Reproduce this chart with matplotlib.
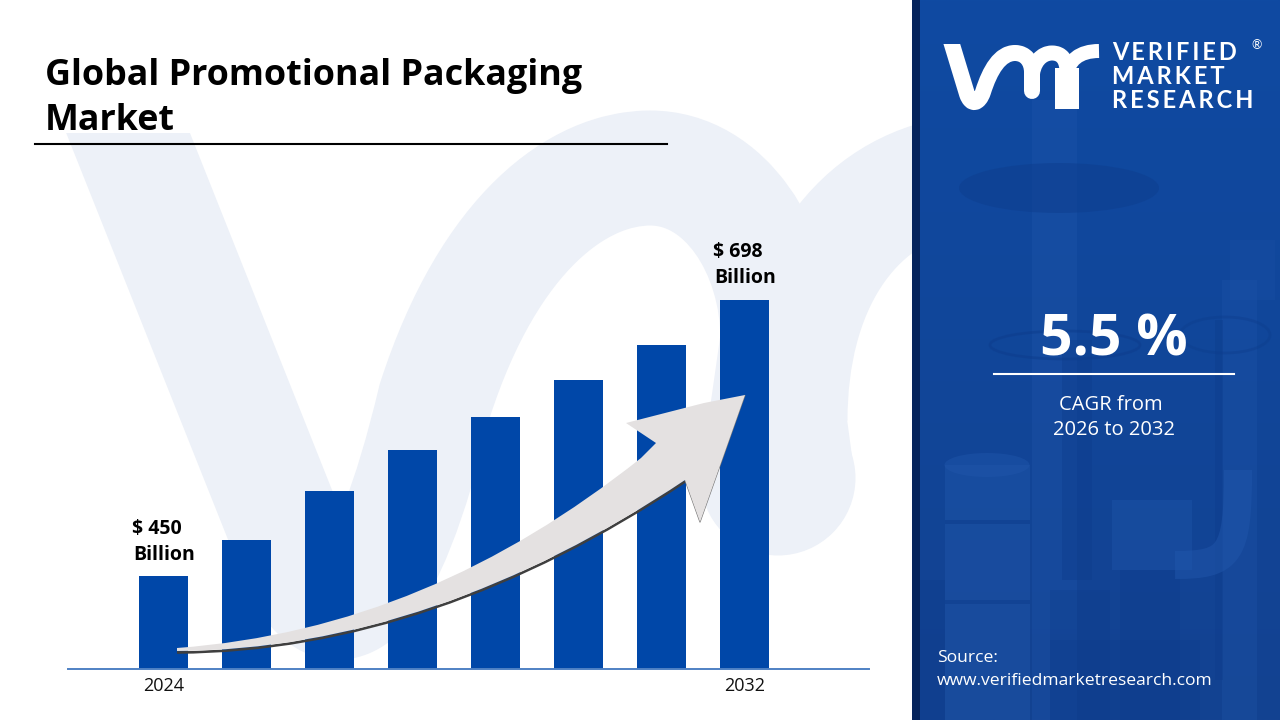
import numpy as np
import matplotlib
matplotlib.use('Agg')
import matplotlib.pyplot as plt
from matplotlib.path import Path
from matplotlib.patches import PathPatch, Rectangle, Polygon, Ellipse

bar_labels = ['2024', '', '', '', '', '', '', '2032']
# bars are drawn as tall as they look in the picture, not to the dollar scale
bar_heights = [93, 129, 178, 219, 252, 289, 324, 369]
start_label = '$ 450\nBillion'
end_label = '$ 698\nBillion'
title_lines = ['Global Promotional Packaging', 'Market']
cagr_value = '5.5 %'

BLUE = '#0047a8'
PALE = '#edf1f8'
SANS = ['Open Sans', 'DejaVu Sans']
LATO = ['Lato', 'DejaVu Sans']

plt.rcParams['font.family'] = SANS

fig = plt.figure(figsize=(12.8, 7.2), dpi=100, facecolor='white')

# whole figure axes in pixel coordinates for all the decoration
bg = fig.add_axes([0, 0, 1, 1], zorder=0)
bg.set_xlim(0, 1280)
bg.set_ylim(720, 0)
bg.axis('off')


def stroke(ax, verts, codes, width, color, cap='butt', clip=None, z=2, alpha=1):
    patch = PathPatch(Path(verts, codes), fill=False, edgecolor=color, lw=width * 0.72,
                      capstyle=cap, joinstyle='round', zorder=z, alpha=alpha)
    ax.add_patch(patch)
    if clip is not None:
        patch.set_clip_path(clip)
    return patch


M, L, C = Path.MOVETO, Path.LINETO, Path.CURVE4

# big pale logo behind the chart
clip_box = Polygon([(0, 133), (300, 133), (300, 110), (912, 110), (912, 720), (0, 720)],
                   closed=True, transform=bg.transData)
stroke(bg, [(103, 70), (300, 565), (335, 640), (385, 610), (435, 400), (490, 230), (580, 168), (650, 168),
            (725, 168), (778, 250), (778, 340)],
       [M, L, C, C, C, C, C, C, C, C, C], 115, PALE, clip=clip_box, z=1)
bg.add_patch(Polygon([(720, 338), (836, 338), (855, 478), (700, 478)], closed=True, fc=PALE, ec='none', zorder=1))
bg.add_patch(Ellipse((778, 478), 155, 155, color=PALE, lw=0, zorder=1))
stroke(bg, [(790, 420), (790, 290), (850, 195), (950, 175)], [M, C, C, C], 115, PALE, clip=clip_box, z=1)

# side panel, dark strip on the left and darker to the bottom
grad = np.linspace(0, 1, 256).reshape(-1, 1, 1)
top = np.array([15, 74, 162]) / 255
bottom = np.array([19, 66, 145]) / 255
bg.imshow(top + (bottom - top) * grad, extent=(912, 1280, 720, 0), aspect='auto', zorder=3)
bg.set_xlim(0, 1280)
bg.set_ylim(720, 0)
bg.add_patch(Rectangle((912, 0), 8, 720, color='#06245c', lw=0, zorder=4.5))

# plant silhouette in the panel
dark = '#0d3c8c'
light = '#2056ab'
for x, y, w, h, col, a in [
    (1032, 100, 45, 620, light, 0.35), (1062, 340, 30, 240, dark, 0.4),
    (945, 465, 85, 255, light, 0.45), (945, 520, 85, 4, dark, 0.5), (945, 600, 85, 4, dark, 0.5),
    (1112, 500, 80, 70, light, 0.4), (1120, 570, 60, 150, dark, 0.3),
    (1222, 280, 35, 440, light, 0.3), (1215, 320, 8, 360, dark, 0.4),
    (1050, 590, 60, 130, dark, 0.3), (1230, 240, 45, 60, light, 0.2),
    (920, 580, 25, 140, dark, 0.4), (1050, 640, 150, 80, dark, 0.25),
]:
    bg.add_patch(Rectangle((x, y), w, h, color=col, alpha=a, lw=0, zorder=4))
bg.add_patch(Ellipse((1059, 188), 200, 50, color=dark, alpha=0.45, lw=0, zorder=4))
bg.add_patch(Ellipse((987, 465), 85, 24, color=light, alpha=0.45, lw=0, zorder=4))
bg.add_patch(Ellipse((1065, 345), 150, 28, fill=False, ec=dark, lw=2, alpha=0.5, zorder=4))
bg.add_patch(Ellipse((1225, 335), 90, 36, fill=False, ec=dark, lw=2, alpha=0.4, zorder=4))
stroke(bg, [(1238, 470), (1238, 555), (1230, 565), (1175, 565)], [M, C, C, C], 28, light, z=4, alpha=0.5)

# logo
logo_clip = Rectangle((930, 44), 180, 70, transform=bg.transData)
stroke(bg, [(950, 38), (967, 94), (971, 106), (979, 104), (983, 92), (990, 70), (1000, 53), (1015, 53),
            (1026, 53), (1032, 62), (1032, 72), (1032, 91)],
       [M, L, C, C, C, C, C, C, C, C, C, L], 16, 'white', cap='round', clip=logo_clip, z=5)
stroke(bg, [(1032, 80), (1032, 62), (1042, 53), (1052, 53), (1062, 53), (1067, 60), (1067, 72)],
       [M, C, C, C, C, C, C], 15, 'white', z=5)
stroke(bg, [(1067, 68), (1067, 109)], [M, L], 24, 'white', z=5)
stroke(bg, [(1067, 78), (1067, 60), (1080, 51), (1099, 51)], [M, C, C, C], 14, 'white', z=5)

hair = '\u200a'
for text, y in [('VERIFIED', 53), ('MARKET', 77), ('RESEARCH', 100)]:
    bg.text(1112, y, (hair * 2).join(text), color='white', fontsize=17, family=LATO, fontweight='bold',
            va='center', zorder=6)
bg.text(1257, 45, '®', color='white', fontsize=9, family=LATO, ha='center', va='center', zorder=6)

# bars, axes placed on the baseline
ax = fig.add_axes([68 / 1280, (720 - 669) / 720, (869 - 68) / 1280, 400 / 720], zorder=2)
ax.patch.set_alpha(0)
x = np.arange(len(bar_heights))
ax.bar(x, bar_heights, width=0.585, color=BLUE, zorder=2)
ax.set_xlim(-1.15, 8.5)
ax.set_ylim(0, 400)
ax.set_yticks([])
ax.set_xticks(x, bar_labels, fontsize=13, color='#111111')
ax.tick_params(axis='x', length=0, pad=6)
for s in ['top', 'left', 'right']:
    ax.spines[s].set_visible(False)
ax.spines['bottom'].set_color('#4f81c4')
ax.spines['bottom'].set_linewidth(1.4)
ax.spines['bottom'].set_zorder(3)

for i, label in [(0, start_label), (-1, end_label)]:
    first, second = label.split('\n')
    ax.text(x[i] - 0.38, bar_heights[i] + (37 if i == 0 else 38), first, fontsize=14, fontweight='bold',
            color='black', va='bottom', ha='left')
    ax.text(x[i] - 0.36, bar_heights[i] + (11 if i == 0 else 12), second, fontsize=14, fontweight='bold',
            color='black', va='bottom', ha='left')

# growth arrow on top of the bars
over = fig.add_axes([0, 0, 1, 1], zorder=3)
over.set_xlim(0, 1280)
over.set_ylim(720, 0)
over.axis('off')
arrow_verts = [(177, 648), (350, 635), (500, 570), (641, 458), (656, 443), (626, 423), (704, 403), (745, 395),
               (700, 522), (685, 480), (520, 590), (350, 650), (177, 651), (177, 648)]
arrow_codes = [M, C, C, C, L, L, L, L, L, L, C, C, C, Path.CLOSEPOLY]
stroke(over, [(685, 481.5), (520, 591.5), (350, 651.5), (177, 652.5)], [M, C, C, C], 2.6, '#3f3f3f', z=1)
stroke(over, [(745, 395), (700, 522), (685, 480)], [M, L, L], 1.2, '#777777', z=1)
over.add_patch(PathPatch(Path(arrow_verts, arrow_codes), fc='#e4e1e1', ec='none', zorder=2))

# title and rule
bg.text(45, 76, title_lines[0], fontsize=25.8, fontweight='bold', color='black', va='center', zorder=6)
bg.text(45, 121, title_lines[1], fontsize=25.8, fontweight='bold', color='black', va='center', zorder=6)
bg.plot([35, 667], [144, 144], color='black', lw=1.5, zorder=6)

# side panel text
bg.text(1114, 340, cagr_value, color='white', fontsize=41, fontweight='bold', ha='center', va='center', zorder=6)
bg.plot([994, 1234], [374, 374], color='white', lw=1.5, zorder=6)
bg.text(1111, 405, 'CAGR from', color='white', fontsize=14.5, ha='center', va='center', zorder=6)
bg.text(1114, 430, '2026 to 2032', color='white', fontsize=14.5, ha='center', va='center', zorder=6)
bg.text(937, 658, 'Source:', color='white', fontsize=12.6, va='center', zorder=6)
bg.text(937, 681, 'www.verifiedmarketresearch.com', color='white', fontsize=12.6, va='center', zorder=6)

fig.savefig('out.png', dpi=100)
